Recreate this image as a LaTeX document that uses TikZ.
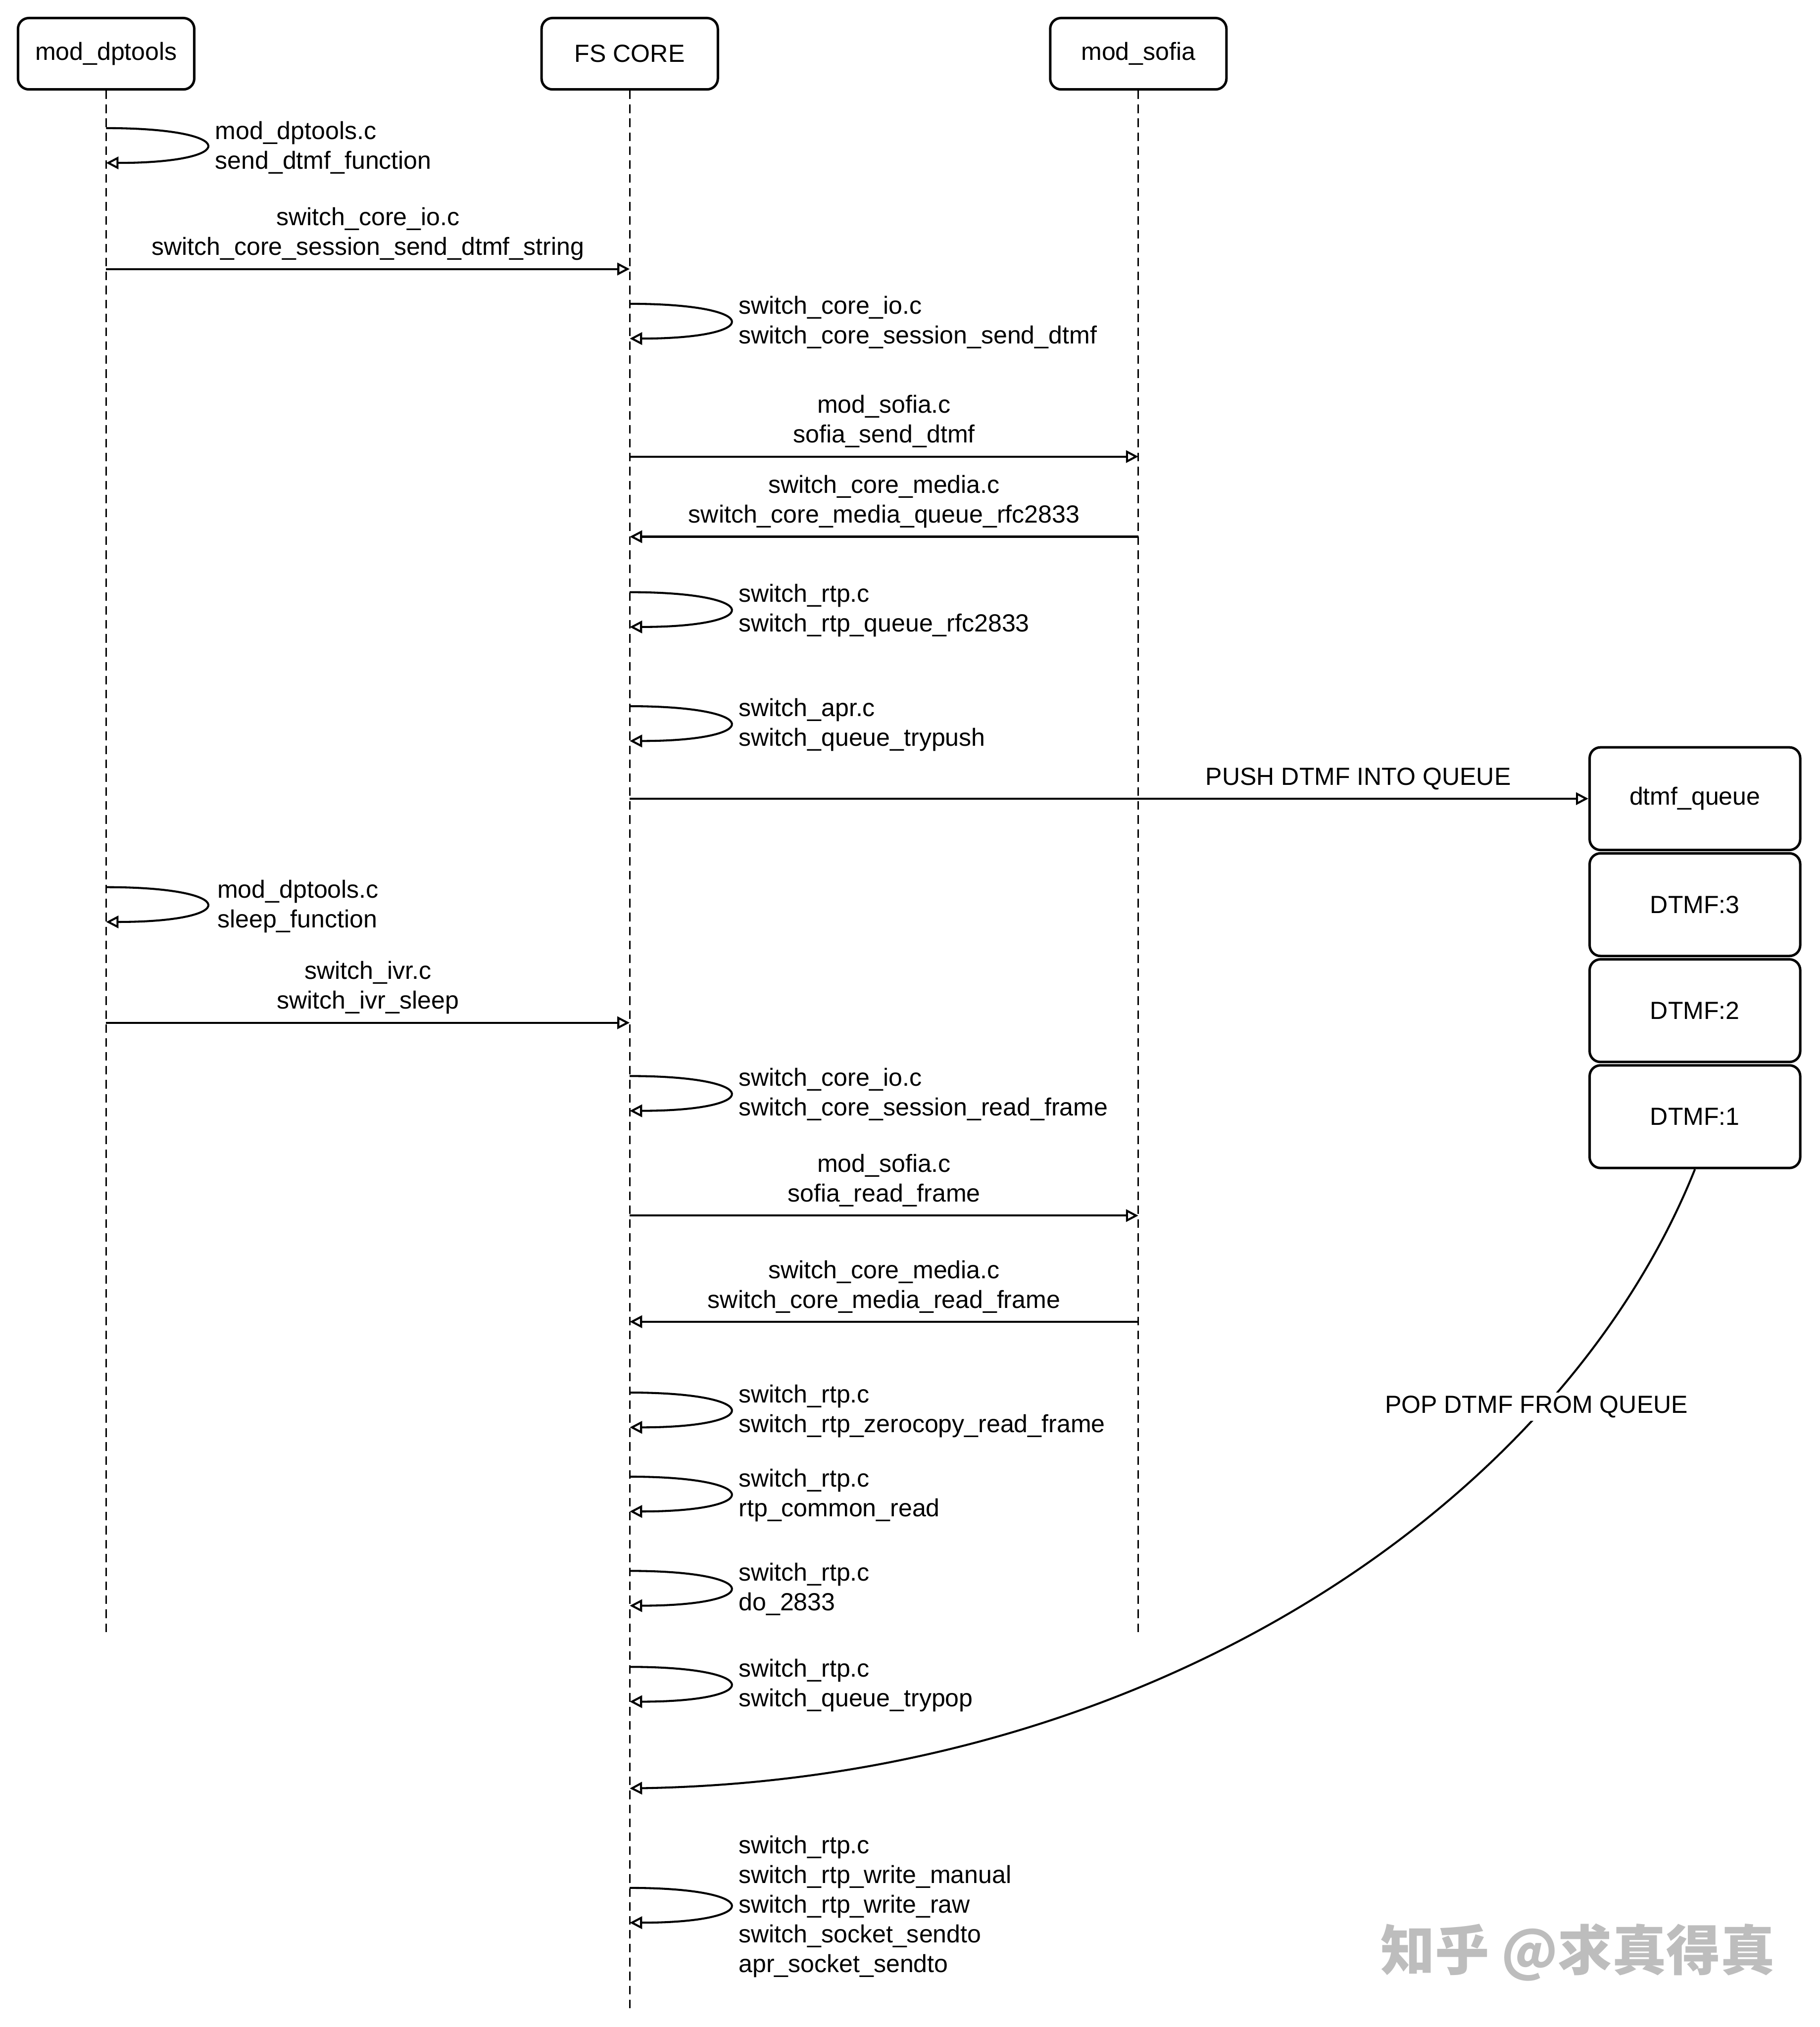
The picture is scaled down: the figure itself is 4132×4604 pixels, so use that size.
\documentclass[tikz,border=0pt]{standalone}
\usepackage{fontspec}
\setmainfont{Liberation Sans}
\newfontfamily\cjkfont{Noto Sans CJK SC}
\usetikzlibrary{arrows.meta,positioning}
\definecolor{MarkGray}{HTML}{BDBDBD}
\begin{document}
\begin{tikzpicture}[x=0.01cm,y=-0.01cm,font=\fontsize{16pt}{19.2pt}\selectfont,
actor/.style={draw,line width=1.6pt,rounded corners=7pt,minimum width=4cm,minimum height=1.62cm},
slot/.style={draw,line width=1.6pt,rounded corners=7pt,minimum width=4.78cm,minimum height=2.33cm},
life/.style={line width=1pt,dash pattern=on 5.5pt off 3.5pt},
msg/.style={line width=1.3pt,-{Triangle[open,length=8pt,width=8pt]}},
lbl/.style={above,align=center,inner sep=5pt},
note/.style={anchor=west,align=left,inner sep=0pt}]
\useasboundingbox (0,0) rectangle (4132,4604);
\node[actor] (dpt) at (241,122) {mod\_dptools};
\node[actor] (core) at (1430,122) {FS CORE};
\node[actor] (sofia) at (2585,122) {mod\_sofia};
\coordinate (dptend) at (241,3718);
\coordinate (coreend) at (1430,4561);
\coordinate (sofiaend) at (2585,3718);
\draw[life] (dpt) -- (dptend);
\draw[life] (core) -- (coreend);
\draw[life] (sofia) -- (sofiaend);
\node[slot] (q0) at (3849,1814) {dtmf\_queue};
\node[slot,below=0.02cm of q0] (q3) {DTMF:3};
\node[slot,below=0.02cm of q3] (q2) {DTMF:2};
\node[slot,below=0.02cm of q2] (q1) {DTMF:1};
\draw[msg] (dpt|-0,291) .. controls +(305,0) and +(305,0) .. (dpt|-0,370);
\node[note] (d1) at (488,335) {mod\_dptools.c\\send\_dtmf\_function};
\draw[msg] (dpt|-0,611) -- node[lbl] (m1) {switch\_core\_io.c\\switch\_core\_session\_send\_dtmf\_string} (core|-0,611);
\draw[msg] (core|-0,1037) -- node[lbl] (m2) {mod\_sofia.c\\sofia\_send\_dtmf} (sofia|-0,1037);
\draw[msg] (sofia|-0,1219) -- node[lbl] (m3) {switch\_core\_media.c\\switch\_core\_media\_queue\_rfc2833} (core|-0,1219);
\draw[msg] (core|-q0.west) -- node[lbl,pos=0.76] (push) {PUSH DTMF INTO QUEUE} (q0.west);
\draw[msg] (dpt|-0,2015) .. controls +(305,0) and +(305,0) .. (dpt|-0,2094);
\node[note] (d2) at (493,2059) {mod\_dptools.c\\sleep\_function};
\draw[msg] (dpt|-0,2323) -- node[lbl] (m4) {switch\_ivr.c\\switch\_ivr\_sleep} (core|-0,2323);
\draw[msg] (core|-0,2761) -- node[lbl] (m5) {mod\_sofia.c\\sofia\_read\_frame} (sofia|-0,2761);
\draw[msg] (sofia|-0,3002) -- node[lbl] (m6) {switch\_core\_media.c\\switch\_core\_media\_read\_frame} (core|-0,3002);
\foreach \y/\txt in {690/{switch\_core\_io.c\\switch\_core\_session\_send\_dtmf},
  1345/{switch\_rtp.c\\switch\_rtp\_queue\_rfc2833},
  1604/{switch\_apr.c\\switch\_queue\_trypush},
  2444/{switch\_core\_io.c\\switch\_core\_session\_read\_frame},
  3163/{switch\_rtp.c\\switch\_rtp\_zerocopy\_read\_frame},
  3354/{switch\_rtp.c\\rtp\_common\_read},
  3568/{switch\_rtp.c\\do\_2833},
  3786/{switch\_rtp.c\\switch\_queue\_trypop},
  4288/{switch\_rtp.c\\switch\_rtp\_write\_manual\\switch\_rtp\_write\_raw\\switch\_socket\_sendto\\apr\_socket\_sendto}}{
  \draw[msg] (core|-0,\y) .. controls +(305,0) and +(305,0) .. (core|-0,\y+79);
  \node[note] (c\y) at (1677,\y+42) {\txt};
}
\draw[msg] (q1.south) .. controls +(-300,750) and +(1200,-20) .. (core|-0,4062);
\node[fill=white,inner sep=2pt] (pop) at (3489,3195) {POP DTMF FROM QUEUE};
\node[text=MarkGray,font=\cjkfont\bfseries\fontsize{35pt}{40pt}\selectfont] (mark) at (3583,4435) {知乎 @求真得真};
\end{tikzpicture}
\end{document}
